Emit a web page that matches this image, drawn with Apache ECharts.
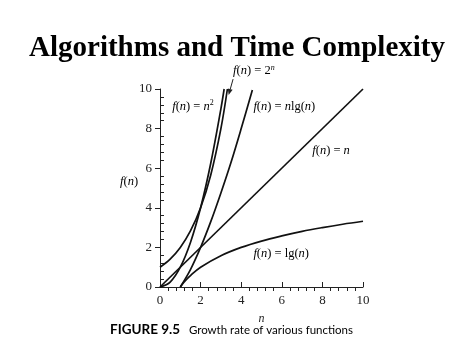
<!DOCTYPE html>
<html lang="en">
<head>
  <meta charset="UTF-8">
  <title>Algorithms and Time Complexity</title>
  <style>
    html, body { margin: 0; padding: 0; background: #fff; }
    #chart { width: 474px; height: 355px; }
  </style>
</head>
<body>
<div id="chart"></div>
<script src="https://cdn.jsdelivr.net/npm/echarts@6/dist/echarts.min.js"></script>
<script>
  // values
  var nSq = [0, 0.5, 1, 1.5, 2, 2.5, 3, 3.16];
  var fSq = [0, 0.25, 1, 2.25, 4, 6.25, 9, 10];
  var nExp = [0, 0.5, 1, 1.5, 2, 2.5, 3, 3.32];
  var fExp = [1, 1.41, 2, 2.83, 4, 5.66, 8, 10];
  var nNlg = [1, 1.5, 2, 2.5, 3, 3.5, 4, 4.55];
  var fNlg = [0, 0.88, 2, 3.3, 4.75, 6.3, 8, 9.95];
  var nLin = [0, 10];
  var fLin = [0, 10];
  var nLg = [1, 1.1, 1.25, 1.5, 2, 3, 4, 5, 6, 7, 8, 9, 10];
  var fLg = [0, 0.14, 0.32, 0.58, 1, 1.58, 2, 2.32, 2.58, 2.81, 3, 3.17, 3.32];

  var titleText = 'Algorithms and Time Complexity';
  var figLabel = 'FIGURE 9.5';
  var figCaption = 'Growth rate of various functions';

  function pairs(xs, ys) {
    return xs.map(function (x, i) { return [x, ys[i]]; });
  }

  var serif = '"Liberation Serif", "DejaVu Serif", serif';
  var lineStyle = { color: '#111', width: 1.7 };

  function curve(name, xs, ys) {
    return {
      name: name,
      type: 'line',
      data: pairs(xs, ys),
      smooth: 0.35,
      showSymbol: false,
      silent: true,
      clip: false,
      lineStyle: lineStyle
    };
  }

  var chart = echarts.init(document.getElementById('chart'));

  var option = {
    animation: false,
    backgroundColor: '#fff',
    title: {
      text: titleText,
      left: 'center',
      top: 29,
      textStyle: { fontFamily: serif, fontWeight: 'bold', fontSize: 29, color: '#000' }
    },
    grid: { left: 160, right: 111, top: 89, bottom: 68 },
    xAxis: {
      type: 'value', min: 0, max: 10, interval: 2,
      name: 'n', nameLocation: 'middle', nameGap: 26,
      nameTextStyle: { fontFamily: serif, fontStyle: 'italic', fontSize: 12, color: '#222' },
      axisLine: { lineStyle: { color: '#222', width: 1 } },
      axisTick: { inside: true, length: 5, lineStyle: { color: '#222' } },
      minorTick: { show: true, splitNumber: 5, length: -4, lineStyle: { color: '#222' } },
      splitLine: { show: false },
      axisLabel: { fontFamily: serif, fontSize: 13, color: '#222', margin: 7 }
    },
    yAxis: {
      type: 'value', min: 0, max: 10, interval: 2,
      axisLine: { show: true, lineStyle: { color: '#222', width: 1 } },
      axisTick: { show: true, inside: false, length: 5, lineStyle: { color: '#222' } },
      minorTick: { show: true, splitNumber: 5, length: -4, lineStyle: { color: '#222' } },
      splitLine: { show: false },
      axisLabel: { fontFamily: serif, fontSize: 13, color: '#222', margin: 8 }
    },
    series: [
      curve('n^2', nSq, fSq),
      curve('2^n', nExp, fExp),
      curve('n lg n', nNlg, fNlg),
      curve('n', nLin, fLin),
      curve('lg n', nLg, fLg)
    ]
  };

  chart.setOption(option);

  // annotation labels placed in data space
  var rich = {
    i: { fontFamily: serif, fontStyle: 'italic', fontSize: 12.5, color: '#222' },
    r: { fontFamily: serif, fontSize: 12.5, color: '#222' },
    s: { fontFamily: serif, fontStyle: 'italic', fontSize: 8, color: '#222', verticalAlign: 'top', padding: [0, 0, 7, 0] },
    sr: { fontFamily: serif, fontSize: 8, color: '#222', padding: [0, 0, 7, 0] }
  };
  var notes = [
    { at: [0.6, 9.1], text: '{i|f}{r|(}{i|n}{r|) = }{i|n}{sr|2}' },
    { at: [3.6, 10.9], text: '{i|f}{r|(}{i|n}{r|) = 2}{s|n}' },
    { at: [4.6, 9.1], text: '{i|f}{r|(}{i|n}{r|) = }{i|n}{r|lg(}{i|n}{r|)}' },
    { at: [7.5, 6.9], text: '{i|f}{r|(}{i|n}{r|) = }{i|n}' },
    { at: [4.6, 1.7], text: '{i|f}{r|(}{i|n}{r|) = lg(}{i|n}{r|)}' }
  ];
  var graphics = notes.map(function (nt) {
    var p = chart.convertToPixel({ gridIndex: 0 }, nt.at);
    return {
      type: 'text', x: p[0], y: p[1],
      style: { text: nt.text, rich: rich, verticalAlign: 'middle' }
    };
  });

  // arrow pointing at the 2^n curve
  var a0 = chart.convertToPixel({ gridIndex: 0 }, [3.6, 10.5]);
  var a1 = chart.convertToPixel({ gridIndex: 0 }, [3.38, 9.7]);
  var ang = Math.atan2(a1[1] - a0[1], a1[0] - a0[0]);
  var hl = 6, hw = 2.5;
  var bx = a1[0] - hl * Math.cos(ang), by = a1[1] - hl * Math.sin(ang);
  graphics.push({
    type: 'line',
    shape: { x1: a0[0], y1: a0[1], x2: bx, y2: by },
    style: { stroke: '#222', lineWidth: 1 }
  });
  graphics.push({
    type: 'polygon',
    shape: { points: [
      [a1[0], a1[1]],
      [bx + hw * Math.sin(ang), by - hw * Math.cos(ang)],
      [bx - hw * Math.sin(ang), by + hw * Math.cos(ang)]
    ] },
    style: { fill: '#222' }
  });

  // y axis name, drawn horizontally
  var yn = chart.convertToPixel({ gridIndex: 0 }, [0, 5]);
  graphics.push({
    type: 'text', x: yn[0] - 40, y: yn[1] - 6,
    style: { text: '{i|f}{r|(}{i|n}{r|)}', rich: rich, verticalAlign: 'middle' }
  });

  // caption
  graphics.push({
    type: 'text', x: 110, y: 323,
    style: {
      text: '{b|' + figLabel + '}{g|   ' + figCaption + '}',
      rich: {
        b: { fontFamily: 'Lato, "Noto Sans", sans-serif', fontWeight: 'bold', fontSize: 13.5, color: '#222' },
        g: { fontFamily: 'Lato, "Noto Sans", sans-serif', fontSize: 11.5, color: '#222' }
      }
    }
  });

  chart.setOption({ graphic: graphics });
</script>
</body>
</html>
